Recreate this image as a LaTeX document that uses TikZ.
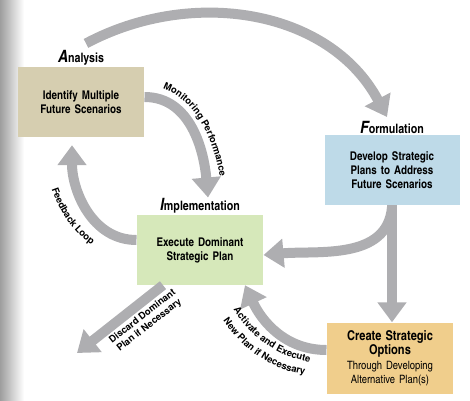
\documentclass[tikz,border=0pt]{standalone}
\usepackage{fontspec}
\setmainfont{texgyreheroscn}[Extension=.otf, UprightFont=*-regular, BoldFont=*-bold, ItalicFont=*-italic, BoldItalicFont=*-bolditalic]
\newfontfamily\widefont{texgyreheros}[Extension=.otf, UprightFont=*-regular, BoldFont=*-bold]
\usetikzlibrary{arrows.meta,decorations.text,positioning}

\definecolor{anatan}{RGB}{214,206,176}
\definecolor{forblue}{RGB}{190,218,232}
\definecolor{impgreen}{RGB}{214,232,186}
\definecolor{optgold}{RGB}{240,206,140}
\definecolor{arrgray}{RGB}{174,174,177}

\newcommand{\firstletter}[1]{{\fontsize{17}{17}\selectfont\itshape #1}}
\newcommand{\arrlab}{\widefont\bfseries\fontsize{9.5}{11}\selectfont}

\tikzset{
  stagebox/.style={fill=#1, minimum width=126pt, minimum height=70pt, text width=120pt, align=center, font=\bfseries\fontsize{12}{14}\selectfont},
  stagelab/.style={font=\bfseries\fontsize{13}{14}\selectfont, inner sep=1pt},
  bigarrow/.style={draw=arrgray, line width=10pt, -{Triangle[width=28pt,length=20pt]}},
  pathlab/.style={decorate, decoration={text along path, text align=center, text={#1}}}
}

\begin{document}
\begin{tikzpicture}[x=1pt,y=1pt]
  \useasboundingbox (0,0) rectangle (470,400);
  \shade[left color=black!38, right color=white] (0,0) rectangle (24,400);
  % the four stages
  \node[stagebox=anatan] (ana) at (81,298) {Identify Multiple\\Future Scenarios};
  \node[stagebox=forblue, minimum width=135pt] (for) at (392,230) {Develop Strategic\\Plans to Address\\Future Scenarios};
  \node[stagebox=impgreen] (imp) at (200,150) {Execute Dominant\\Strategic Plan};
  \node[stagebox=optgold, minimum height=71pt] (opt) at (390,42) {{\fontsize{13.5}{14}\selectfont Create Strategic\\Options\\}{\mdseries\fontsize{11.5}{14.5}\selectfont Through Developing\\Alternative Plan(s)}};
  \node[stagelab, above=0pt of ana] (analab) {\firstletter{A}nalysis};
  \node[stagelab, above=0pt of for] (forlab) {\firstletter{F}ormulation};
  \node[stagelab, above=0pt of imp] (implab) {\firstletter{I}mplementation};
  % arrows
  \coordinate (drop) at (77,47);
  \draw[bigarrow] ([xshift=5pt,yshift=6pt]analab.north) to[out=28,in=118] ([xshift=-5pt,yshift=3pt]forlab.north);
  \draw[bigarrow] ([yshift=5pt]ana.east) to[out=0,in=95] ([xshift=8pt,yshift=0pt]implab.north);
  \draw[bigarrow] ([yshift=10pt]imp.west) to[out=180,in=-90] ([xshift=-9pt,yshift=-8pt]ana.south);
  \draw[bigarrow] (for.south) -- (for.south |- opt.north);
  \draw[bigarrow] ([yshift=-2pt]for.south) to[out=-95,in=5] ([yshift=-5pt]imp.east);
  \draw[bigarrow] ([yshift=8pt]opt.west) to[out=180,in=-65] ([xshift=45pt]imp.south);
  \draw[bigarrow] ([xshift=-37pt]imp.south) -- (drop);
  % arrow labels
  \path[pathlab={|\arrlab|Monitoring Performance}] (140,315) to[out=0,in=95] (223,200);
  \path[pathlab={|\arrlab|Feedback Loop}] (44,258) to[out=-90,in=180] (137,141);
  \path[pathlab={|\arrlab|Activate and Execute}] (224,106) to[out=-62,in=178] (328,36);
  \path[pathlab={|\arrlab|New Plan if Necessary}] (212,98) to[out=-62,in=178] (326,23);
  \node[rotate=38, align=center, font=\arrlab] (dislab) at (146,79) {Discard Dominant\\Plan if Necessary};
\end{tikzpicture}
\end{document}
